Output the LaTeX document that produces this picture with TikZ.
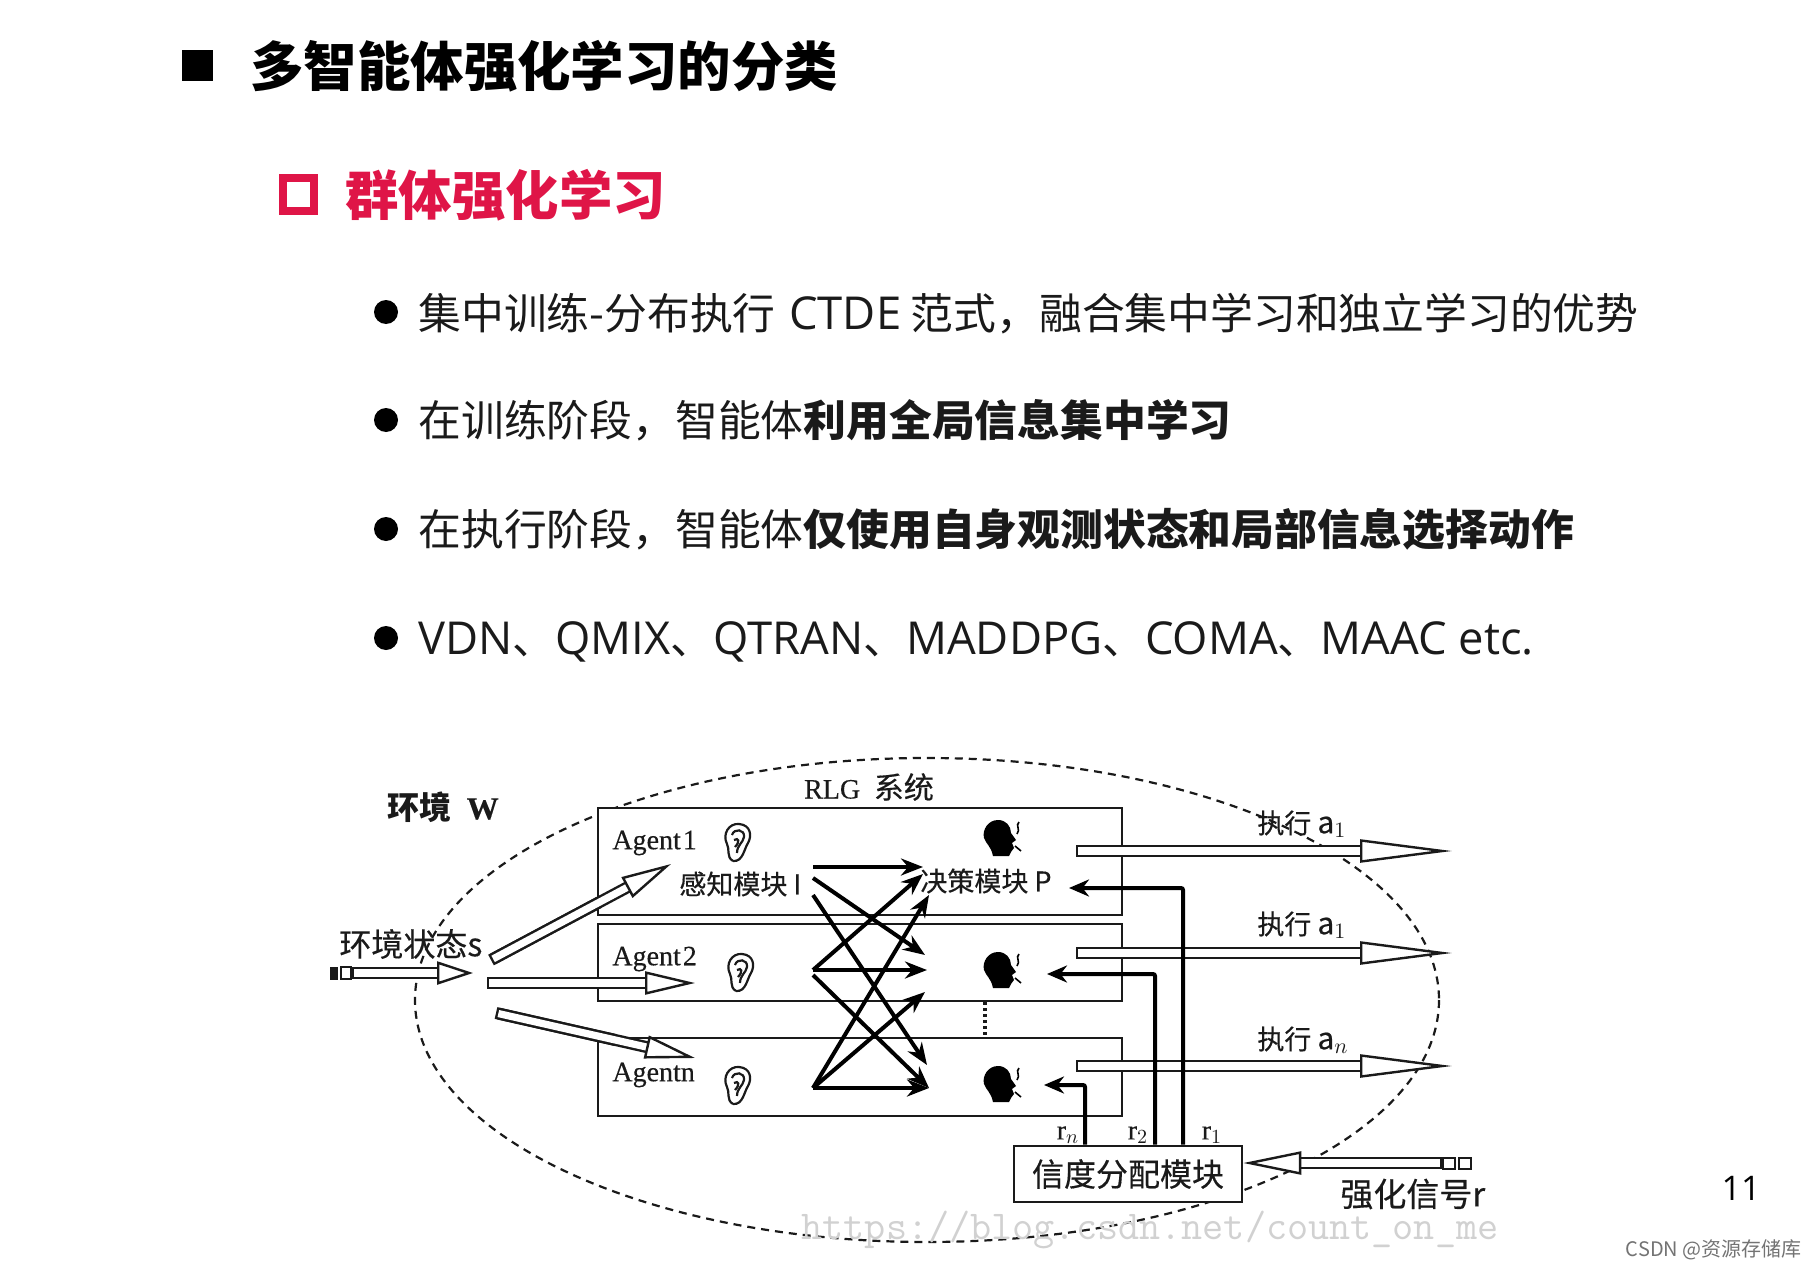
\documentclass[tikz,border=0pt]{standalone}
\usepackage{fontspec}
\usetikzlibrary{arrows.meta}
\newfontfamily\cjk{Noto Sans CJK SC}
\newfontfamily\cjkheavy[FakeBold=0.4]{Noto Sans CJK SC}
\newfontfamily\latn[Scale=1.06]{Open Sans}
\newfontfamily\serifheavy[FakeBold=0.3]{Liberation Serif}
\newcommand{\fs}[1]{\fontsize{#1}{#1}\selectfont}
\definecolor{slidered}{HTML}{DF1547}
\definecolor{inkblack}{HTML}{1A1A1A}
\tikzset{
  title/.style={anchor=west,inner sep=0pt,font=\cjk\bfseries\fs{26.7}},
  bodyline/.style={anchor=west,inner sep=0pt,text=inkblack,font=\cjk\fs{21.4}},
  dot/.style={circle,fill=black,inner sep=0pt,minimum size=12pt},
  agentbox/.style={draw=inkblack,fill=white,line width=1.3pt,inner sep=0pt,minimum width=262pt},
  labelc/.style={inner sep=0pt,text=inkblack,font=\cjkheavy\fs{13.5}},
  labell/.style={inner sep=0pt,text=inkblack,font=\serifheavy\fs{14}},
  shaft/.style={draw=inkblack,line width=6pt},
  hollow/.style={draw=inkblack,line width=1.2pt,double=white,double distance=3.6pt,shorten <=1.2pt,
    -{Triangle[fill=white,length=#1,width=11.5pt,line width=1.2pt]}},
  strong/.style={draw=black,line width=2pt,-{Stealth[length=11pt,width=8.5pt]}},
  feedback/.style={draw=black,line width=2pt,rounded corners=1pt,-{Stealth[length=10pt,width=8.5pt]}},
  ear/.pic={
    \draw[line width=1.1pt,draw=inkblack] (-4,18) .. controls (-11,14) and (-7,6) .. (-10,1)
      .. controls (-15,-9) and (-8,-20) .. (2,-19) .. controls (14,-18) and (15,-7) .. (11,0)
      .. controls (7,6) and (6,19) .. (-4,18);
    \draw[line width=1.1pt,draw=inkblack] (-5,-8) .. controls (-3,-15) and (8,-14) .. (7,-6)
      .. controls (6,0) and (0,2) .. (0,10);
    \draw[line width=1.1pt,draw=inkblack] (-3,-3) .. controls (2,-6) and (3,-1) .. (-2,4);
  },
  head/.pic={
    \fill[black] (-4,-18) .. controls (-14,-18) and (-20,-8) .. (-18,0)
      .. controls (-16,6) and (-11,8) .. (-9,18) -- (7,18) .. controls (9,14) and (10,12) .. (12,10)
      -- (10,5) -- (14,2) -- (9,-5) .. controls (9,-12) and (4,-18) .. (-4,-18) -- cycle;
    \draw[line width=0.8pt,draw=black] (17,-16) .. controls (13,-12) and (19,-9) .. (15,-4);
    \draw[line width=0.8pt,draw=black] (13,8) -- (19,13);
  },
}
% shaft closed at its tail, then the white line with the tip
\newcommand{\hollowline}[3]{%
  \draw[shaft] (#2) -- ($(#2)!0.6!(#3)$);
  \draw[hollow=#1] (#2) -- (#3);}
\usetikzlibrary{calc}
\begin{document}
\begin{tikzpicture}[x=0.5pt,y=-0.5pt]
  \useasboundingbox (0,0) rectangle (1816,1268);

  % slide text
  \fill[black] (182,50) rectangle (213,81);
  \node[title] (head1) at (250,66) {多智能体强化学习的分类};
  \draw[slidered,line width=4pt] (282.5,178.5) rectangle (314,211);
  \node[title,text=slidered] (head2) at (345,195) {群体强化学习};
  \foreach \y/\name in {312/a,420/b,529/c,638/d}
    \node[dot] (dot\name) at (386,\y) {};
  \node[bodyline] (line1) at (418,314) {集中训练-分布执行\hspace{2pt} {\latn CTDE} 范式，融合集中学习和独立学习的优势};
  \node[bodyline] (line2) at (418,420) {在训练阶段，智能体{\bfseries 利用全局信息集中学习}};
  \node[bodyline] (line3) at (418,529) {在执行阶段，智能体{\bfseries 仅使用自身观测状态和局部信息选择动作}};
  \node[bodyline] (line4) at (418,642) {\latn VDN{\cjk 、}QMIX{\cjk 、}QTRAN{\cjk 、}MADDPG{\cjk 、}COMA{\cjk 、}MAAC etc.};

  % environment and agents
  \draw[inkblack,line width=1.1pt,dash pattern=on 4pt off 3pt] (927,1000) ellipse [x radius=512,y radius=242];
  \node[agentbox,minimum height=53.5pt] (agent1) at (860,861.5) {};
  \node[agentbox,minimum height=38.5pt] (agent2) at (860,962.5) {};
  \node[agentbox,minimum height=39pt] (agentn) at (860,1077) {};
  \node[agentbox,minimum width=114pt,minimum height=28pt] (credit) at (1128,1174) {};
  \draw[inkblack,line width=1.6pt,dash pattern=on 1.5pt off 1.5pt] (agent2.south -| 985,0) -- (agentn.north -| 985,0);

  \node[labell] (rlg) at (869,787) {RLG {\cjkheavy\fs{15} 系统}};
  \node[labell,anchor=west] (world) at (380,807) {{\cjk\bfseries\fs{16} 环境} {\bfseries\fs{16} W}};
  \node[labell,anchor=west] (name1) at (612,843) {Agent\hspace{1pt}1};
  \node[labell,anchor=west] (name2) at (612,959) {Agent\hspace{1pt}2};
  \node[labell,anchor=west] (namen) at (612,1075) {Agentn};
  \node[labelc,anchor=west] (sense) at (679,884) {感知模块 I};
  \node[labelc,anchor=west] (decide) at (920,881) {决策模块 P};
  \node[labelc,anchor=west,font=\cjkheavy\fs{16}] (state) at (339,944) {环境状态s};
  \foreach \y/\s/\name in {824/1/a,925/1/b,1040/n/c}
    \node[labelc,anchor=west] (act\name) at (1257,\y) {执行 {\fs{15}a$_{\s}$}};
  \node[labell] (rn) at (1068,1135) {r$_{n}$};
  \node[labell] (r2) at (1138,1135) {r$_{2}$};
  \node[labell] (r1) at (1212,1135) {r$_{1}$};
  \node[labelc,font=\cjkheavy\fs{16}] (creditt) at (credit.center) {信度分配模块};
  \node[labelc,anchor=west,font=\cjkheavy\fs{16.5}] (signal) at (1340,1194) {强化信号r};

  % ears and heads
  \foreach \x/\y in {737/843,740/973,737/1086} \pic at (\x,\y) {ear};
  \foreach \y in {838,970,1084} \pic at (1002,\y) {head};

  % hollow arrows
  \node[draw=inkblack,fill=inkblack,inner sep=0pt,minimum width=3.5pt,minimum height=6pt] (srca) at (334,973) {};
  \node[draw=inkblack,line width=1pt,inner sep=0pt,minimum width=5pt,minimum height=6pt] (srcb) at (346,973) {};
  \node[draw=inkblack,line width=1pt,inner sep=0pt,minimum width=6pt,minimum height=5.5pt] (sigb) at (1449,1163) {};
  \node[draw=inkblack,line width=1pt,inner sep=0pt,minimum width=6pt,minimum height=5.5pt] (siga) at (1465,1163) {};
  \coordinate (fan) at (473,973);
  \coordinate (tail1) at (491,960);  \coordinate (tip1) at (671,864);
  \coordinate (tail2) at (487,983);  \coordinate (tip2) at (695,983);
  \coordinate (tail3) at (496,1013); \coordinate (tip3) at (695,1058);
  \hollowline{18pt}{srcb.east}{fan}
  \foreach \n in {1,2,3} {\hollowline{25pt}{tail\n}{tip\n}}
  \foreach \y in {851,953,1066} {
    \coordinate (out\y) at (1076,\y);
    \coordinate (end\y) at (1452,\y);
    \hollowline{46pt}{out\y}{end\y}
  }
  \hollowline{29pt}{sigb.west}{credit.east |- sigb}

  % perception to decision
  \foreach \n/\x/\y in {a/813/867,b/813/878,c/813/895,d/813/970,e/813/975,f/813/1088,
                        p/923/867,q/925/955,r/927/1065,s/923/874,t/927/970,u/929/1088,v/929/895,w/925/992}
    \coordinate (pt\n) at (\x,\y);
  \foreach \a/\b in {a/p,b/q,c/r,d/s,d/t,e/u,f/v,f/w,f/u}
    \draw[strong] (pt\a) -- (pt\b);

  % credit signals
  \coordinate (inr1) at (1069,888);
  \coordinate (inr2) at (1047,974);
  \coordinate (inrn) at (1044,1085);
  \draw[feedback] (credit.north -| 1183,0) |- (inr1);
  \draw[feedback] (credit.north -| 1155,0) |- (inr2);
  \draw[feedback] (credit.north -| 1085,0) |- (inrn);

  % marks on the page
  \node[inner sep=0pt,text=black!18,font=\ttfamily\fs{20.5}] (mark) at (1150,1230) {https://blog.csdn.net/count\_on\_me};
  \node[inner sep=0pt,font=\latn\fs{16}] (page) at (1741,1188) {11};
  \node[inner sep=0pt,anchor=east,text=black!55,font=\cjk\fs{10}] (csdn) at (1802,1250) {CSDN @资源存储库};
\end{tikzpicture}
\end{document}
